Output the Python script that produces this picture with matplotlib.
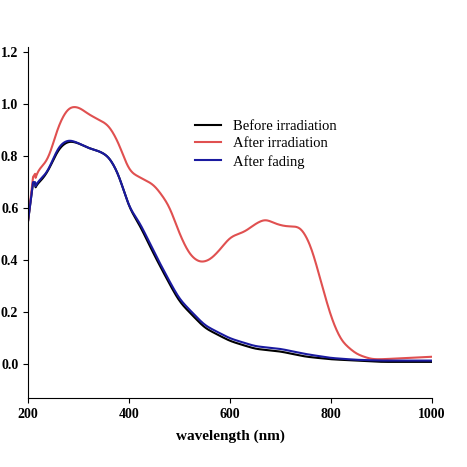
import matplotlib
matplotlib.use("Agg")
import matplotlib.pyplot as plt
import numpy as np

plt.rcParams['font.family'] = ['Liberation Serif', 'DejaVu Serif']

wl_red = [200,210,220,240,260,280,300,320,340,360,380,400,420,450,480,500,520,540,560,580,600,630,650,670,690,710,740,760,780,800,820,850,880,900,1000]
after_irr = [0.55,0.72,0.75,0.78,0.92,0.99,0.99,0.96,0.94,0.92,0.85,0.74,0.72,0.69,0.61,0.50,0.42,0.39,0.40,0.44,0.49,0.51,0.54,0.56,0.54,0.53,0.53,0.46,0.32,0.18,0.09,0.04,0.02,0.02,0.03]
wl_b = [200,210,220,240,260,280,300,320,340,360,380,400,420,450,480,500,550,600,650,700,750,800,850,900,1000]
before_irr = [0.55,0.70,0.69,0.74,0.83,0.86,0.85,0.83,0.82,0.80,0.73,0.60,0.54,0.42,0.31,0.24,0.14,0.09,0.06,0.05,0.03,0.02,0.015,0.01,0.01]
after_fad = [0.55,0.70,0.70,0.74,0.84,0.865,0.85,0.83,0.82,0.80,0.73,0.60,0.55,0.43,0.32,0.25,0.15,0.10,0.07,0.06,0.04,0.025,0.018,0.015,0.015]

def smooth(x, y):
    xs = np.arange(200, 1001, 1)
    ys = np.interp(xs, x, y)
    k = np.exp(-0.5 * (np.arange(-30, 31) / 8.0) ** 2)
    k /= k.sum()
    pad = np.pad(ys, 30, mode='edge')
    ys2 = np.convolve(pad, k, mode='same')[30:-30]
    ys2[:15] = ys[:15]
    return xs, ys2

fig = plt.figure(figsize=(4.67,4.67), dpi=100)
ax = fig.add_axes([0.06, 0.147, 0.865, 0.753])
ax.plot(*smooth(wl_b, before_irr), color='black', lw=1.5, label='Before irradiation')
ax.plot(*smooth(wl_red, after_irr), color='#e05050', lw=1.5, label='After irradiation')
ax.plot(*smooth(wl_b, after_fad), color='#1a1aa0', lw=1.5, label='After fading')
ax.set_xlim(200, 1000)
ax.set_ylim(-0.13, 1.22)
ax.set_xticks([200,400,600,800,1000])
ax.set_yticks([0.0,0.2,0.4,0.6,0.8,1.0,1.2])
ax.set_yticklabels(['0.0','0.2','0.4','0.6','0.8','1.0','1.2'])
for s in ['top','right']:
    ax.spines[s].set_visible(False)
ax.tick_params(labelsize=10)
for t in ax.get_xticklabels()+ax.get_yticklabels():
    t.set_fontweight('bold')
ax.set_xlabel('wavelength (nm)', fontsize=11, fontweight='bold', labelpad=6)
ax.legend(loc='upper left', bbox_to_anchor=(0.38, 0.83), frameon=False, fontsize=10.5, handlelength=1.8, labelspacing=0.3)
fig.savefig('out.png', dpi=100)
